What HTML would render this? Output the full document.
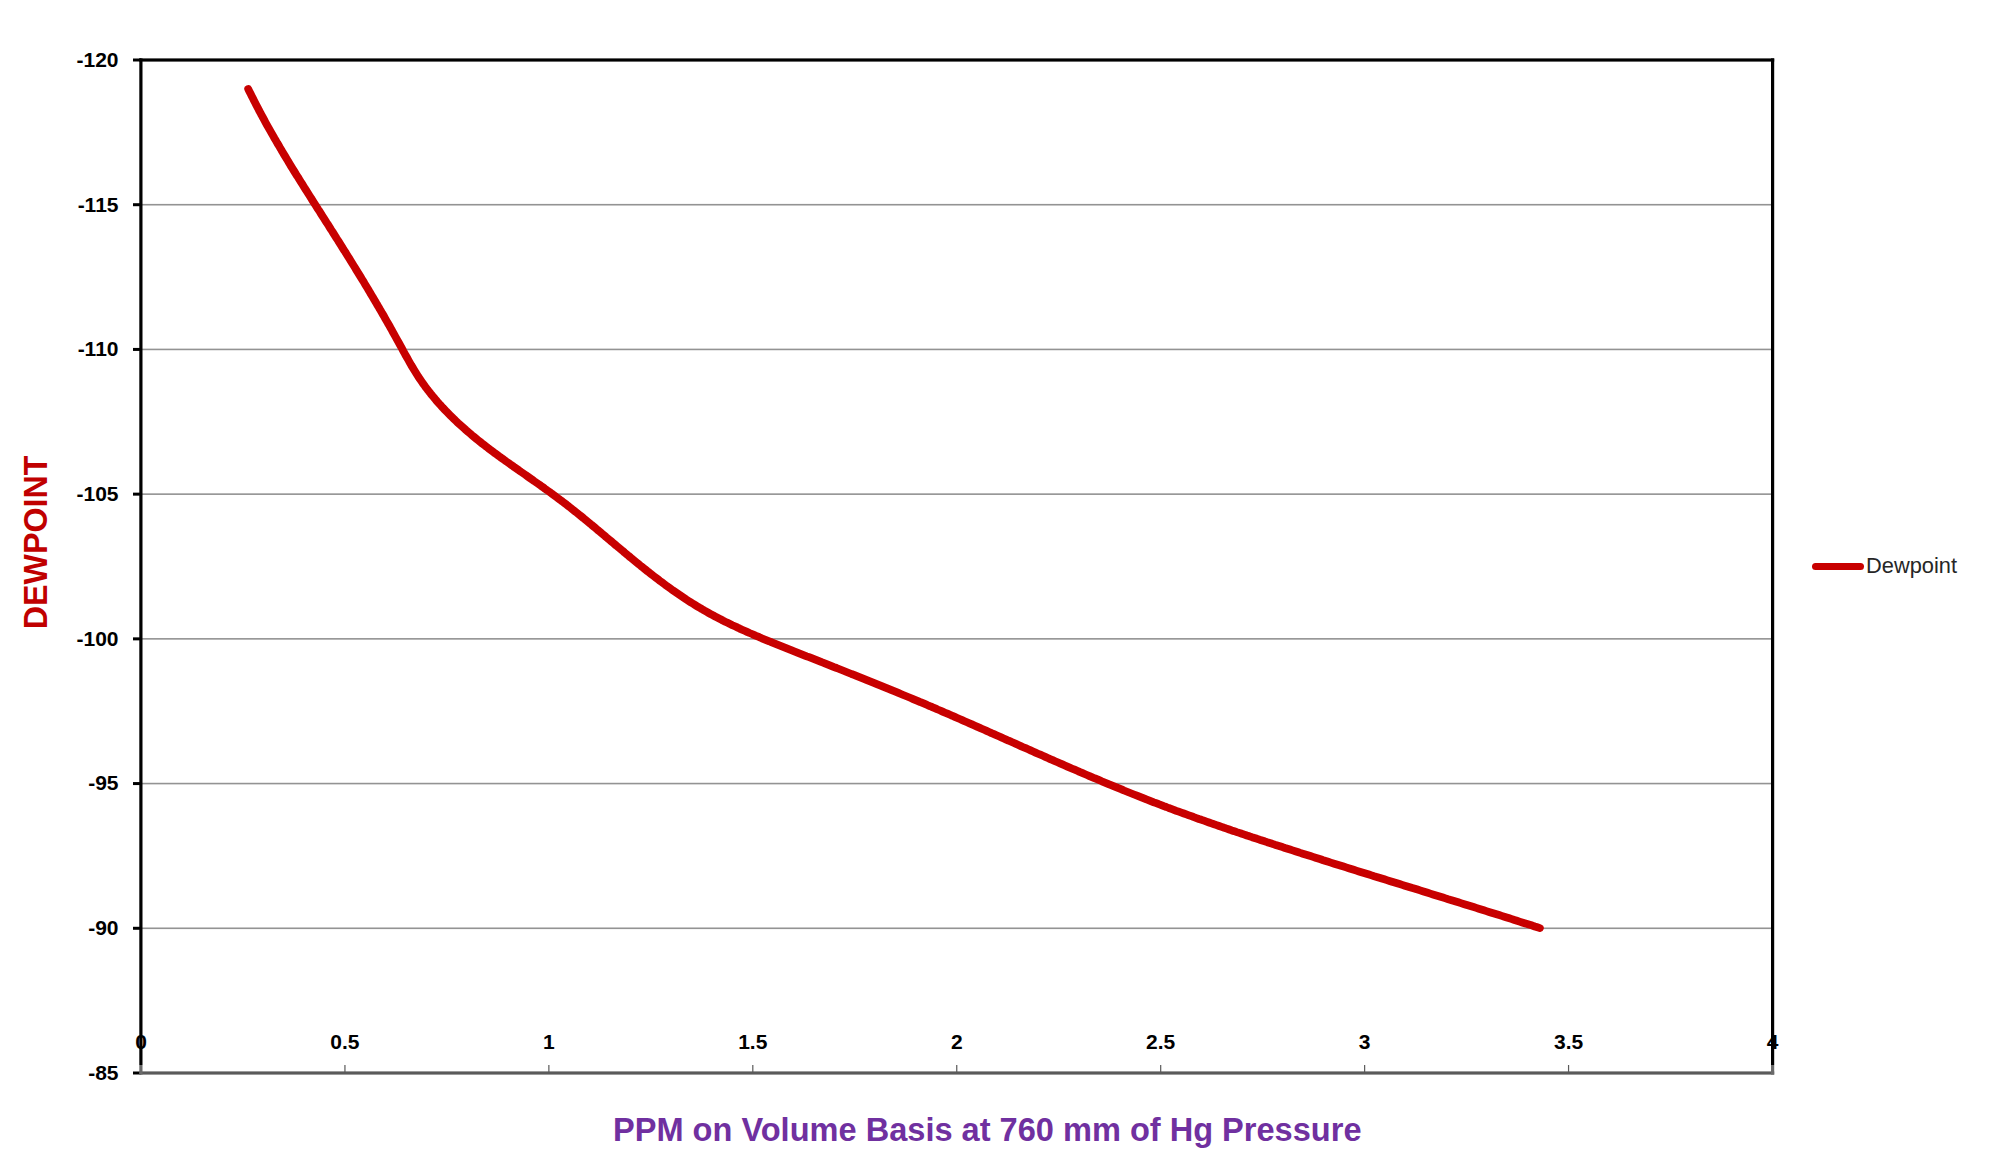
<!DOCTYPE html>
<html><head><meta charset="utf-8">
<style>
html,body{margin:0;padding:0;background:#fff;width:2000px;height:1160px;overflow:hidden}
svg{display:block}
text{font-family:"Liberation Sans",sans-serif}
.lab{font-size:21px;font-weight:bold;fill:#000}
.leg{font-size:22.5px;fill:#262626}
.xt{font-size:33px;font-weight:bold;fill:#7030a0}
.yt{font-size:34px;font-weight:bold;fill:#c00000}
</style></head><body>
<svg width="2000" height="1160" viewBox="0 0 2000 1160">
<rect width="2000" height="1160" fill="#fff"/>
<rect x="141.0" y="203.91" width="1631.5" height="1.6" fill="#939393"/>
<rect x="141.0" y="348.63" width="1631.5" height="1.6" fill="#939393"/>
<rect x="141.0" y="493.34" width="1631.5" height="1.6" fill="#939393"/>
<rect x="141.0" y="638.06" width="1631.5" height="1.6" fill="#939393"/>
<rect x="141.0" y="782.77" width="1631.5" height="1.6" fill="#939393"/>
<rect x="141.0" y="927.49" width="1631.5" height="1.6" fill="#939393"/>
<rect x="133" y="58.50" width="8" height="3" fill="#000"/>
<rect x="133" y="203.21" width="8" height="3" fill="#000"/>
<rect x="133" y="347.93" width="8" height="3" fill="#000"/>
<rect x="133" y="492.64" width="8" height="3" fill="#000"/>
<rect x="133" y="637.36" width="8" height="3" fill="#000"/>
<rect x="133" y="782.07" width="8" height="3" fill="#000"/>
<rect x="133" y="926.79" width="8" height="3" fill="#000"/>
<rect x="133" y="1071.50" width="8" height="3" fill="#000"/>
<rect x="139.3" y="1071.4" width="1634.9" height="3.2" fill="#5a5a5a"/>
<rect x="140.40" y="1065" width="1.2" height="7" fill="#5a5a5a"/>
<rect x="344.34" y="1065" width="1.2" height="7" fill="#5a5a5a"/>
<rect x="548.27" y="1065" width="1.2" height="7" fill="#5a5a5a"/>
<rect x="752.21" y="1065" width="1.2" height="7" fill="#5a5a5a"/>
<rect x="956.15" y="1065" width="1.2" height="7" fill="#5a5a5a"/>
<rect x="1160.09" y="1065" width="1.2" height="7" fill="#5a5a5a"/>
<rect x="1364.03" y="1065" width="1.2" height="7" fill="#5a5a5a"/>
<rect x="1567.96" y="1065" width="1.2" height="7" fill="#5a5a5a"/>
<rect x="1771.90" y="1065" width="1.2" height="7" fill="#5a5a5a"/>
<rect x="139.3" y="58.4" width="1634.9" height="3.2" fill="#000"/>
<rect x="139.3" y="58.4" width="3.2" height="1006.6" fill="#000"/>
<rect x="1771.0" y="58.4" width="3.2" height="1006.6" fill="#000"/>
<rect x="139.3" y="1065" width="3.2" height="9.6" fill="#6a6a6a"/>
<rect x="1771.0" y="1065" width="3.2" height="9.6" fill="#6a6a6a"/>
<path d="M248.2 89.0 L249.4 91.4 L250.6 93.8 L251.8 96.2 L253.0 98.6 L254.2 101.0 L255.4 103.3 L256.6 105.7 L257.9 108.1 L259.1 110.5 L260.4 112.8 L261.6 115.2 L262.9 117.5 L264.2 119.9 L265.4 122.2 L266.7 124.6 L268.0 126.9 L269.3 129.2 L270.7 131.6 L272.0 133.9 L273.3 136.2 L274.6 138.5 L276.0 140.8 L277.3 143.1 L278.7 145.4 L280.0 147.7 L281.4 150.0 L282.7 152.3 L284.1 154.6 L285.5 156.9 L286.9 159.2 L288.3 161.5 L289.6 163.8 L291.0 166.1 L292.4 168.3 L293.8 170.6 L295.2 172.9 L296.6 175.2 L298.1 177.4 L299.5 179.7 L300.9 182.0 L302.3 184.2 L303.7 186.5 L305.1 188.8 L306.6 191.0 L308.0 193.3 L309.4 195.5 L310.9 197.8 L312.3 200.1 L313.7 202.3 L315.2 204.6 L316.6 206.8 L318.0 209.1 L319.5 211.3 L320.9 213.6 L322.3 215.8 L323.8 218.1 L325.2 220.3 L326.6 222.6 L328.1 224.8 L329.5 227.1 L330.9 229.4 L332.4 231.6 L333.8 233.9 L335.2 236.1 L336.6 238.4 L338.1 240.6 L339.5 242.9 L340.9 245.1 L342.3 247.4 L343.7 249.7 L345.2 251.9 L346.6 254.2 L348.0 256.5 L349.4 258.7 L350.8 261.0 L352.2 263.3 L353.6 265.5 L355.0 267.8 L356.4 270.1 L357.8 272.3 L359.2 274.6 L360.6 276.9 L362.0 279.2 L363.4 281.4 L364.7 283.7 L366.1 286.0 L367.5 288.3 L368.9 290.6 L370.2 292.9 L371.6 295.2 L373.0 297.5 L374.3 299.8 L375.7 302.1 L377.0 304.4 L378.4 306.7 L379.7 309.0 L381.1 311.3 L382.4 313.6 L383.8 315.9 L385.1 318.3 L386.4 320.6 L387.7 322.9 L389.1 325.2 L390.4 327.6 L391.7 329.9 L393.0 332.3 L394.3 334.6 L395.6 337.0 L396.9 339.3 L398.2 341.7 L399.5 344.0 L400.8 346.4 L402.1 348.7 L403.3 351.1 L404.6 353.4 L405.9 355.8 L407.3 358.1 L408.6 360.5 L409.9 362.8 L411.2 365.1 L412.6 367.4 L414.0 369.7 L415.4 372.0 L416.8 374.3 L418.2 376.5 L419.7 378.7 L421.2 380.9 L422.7 383.1 L424.3 385.3 L425.8 387.4 L427.4 389.5 L429.1 391.6 L430.7 393.7 L432.4 395.8 L434.1 397.8 L435.8 399.9 L437.5 401.9 L439.3 403.9 L441.1 405.8 L442.9 407.8 L444.7 409.7 L446.5 411.6 L448.4 413.5 L450.3 415.4 L452.2 417.3 L454.1 419.2 L456.0 421.0 L457.9 422.8 L459.9 424.6 L461.9 426.4 L463.9 428.2 L465.9 430.0 L467.9 431.7 L469.9 433.4 L471.9 435.2 L474.0 436.9 L476.1 438.6 L478.1 440.2 L480.2 441.9 L482.3 443.6 L484.4 445.2 L486.5 446.8 L488.6 448.5 L490.8 450.1 L492.9 451.7 L495.0 453.3 L497.2 454.8 L499.3 456.4 L501.5 458.0 L503.7 459.5 L505.8 461.1 L508.0 462.6 L510.2 464.2 L512.4 465.7 L514.5 467.3 L516.7 468.8 L518.9 470.3 L521.1 471.9 L523.3 473.4 L525.5 474.9 L527.7 476.5 L529.8 478.0 L532.0 479.5 L534.2 481.1 L536.4 482.6 L538.6 484.1 L540.8 485.7 L543.0 487.2 L545.1 488.8 L547.3 490.4 L549.5 491.9 L551.6 493.5 L553.8 495.1 L555.9 496.7 L558.1 498.3 L560.2 499.9 L562.4 501.5 L564.5 503.1 L566.6 504.7 L568.7 506.4 L570.8 508.0 L572.9 509.7 L575.0 511.4 L577.1 513.0 L579.2 514.7 L581.3 516.4 L583.4 518.1 L585.4 519.8 L587.5 521.5 L589.6 523.2 L591.6 524.9 L593.7 526.6 L595.8 528.3 L597.8 530.1 L599.9 531.8 L601.9 533.5 L604.0 535.2 L606.0 537.0 L608.1 538.7 L610.1 540.4 L612.2 542.1 L614.2 543.9 L616.3 545.6 L618.3 547.3 L620.4 549.0 L622.5 550.7 L624.5 552.5 L626.6 554.2 L628.6 555.9 L630.7 557.6 L632.7 559.3 L634.8 561.0 L636.9 562.7 L639.0 564.4 L641.0 566.1 L643.1 567.7 L645.2 569.4 L647.3 571.1 L649.4 572.7 L651.5 574.4 L653.6 576.0 L655.7 577.6 L657.8 579.2 L659.9 580.8 L662.1 582.4 L664.2 584.0 L666.3 585.6 L668.5 587.2 L670.6 588.7 L672.8 590.3 L675.0 591.8 L677.2 593.3 L679.4 594.8 L681.6 596.3 L683.8 597.8 L686.0 599.3 L688.2 600.7 L690.4 602.1 L692.7 603.5 L694.9 604.9 L697.2 606.3 L699.5 607.7 L701.8 609.0 L704.1 610.4 L706.4 611.7 L708.7 613.0 L711.0 614.3 L713.4 615.5 L715.7 616.8 L718.1 618.0 L720.5 619.2 L722.8 620.5 L725.2 621.7 L727.6 622.8 L730.0 624.0 L732.4 625.2 L734.9 626.3 L737.3 627.4 L739.7 628.6 L742.1 629.7 L744.6 630.8 L747.0 631.9 L749.5 633.0 L752.0 634.0 L754.4 635.1 L756.9 636.2 L759.4 637.2 L761.8 638.3 L764.3 639.3 L766.8 640.3 L769.3 641.3 L771.8 642.4 L774.3 643.4 L776.8 644.4 L779.3 645.4 L781.8 646.4 L784.3 647.4 L786.8 648.4 L789.3 649.4 L791.8 650.4 L794.2 651.3 L796.7 652.3 L799.2 653.3 L801.7 654.3 L804.2 655.3 L806.7 656.3 L809.2 657.2 L811.7 658.2 L814.2 659.2 L816.7 660.2 L819.2 661.2 L821.7 662.2 L824.2 663.1 L826.7 664.1 L829.2 665.1 L831.6 666.1 L834.1 667.1 L836.6 668.0 L839.1 669.0 L841.6 670.0 L844.1 671.0 L846.5 672.0 L849.0 673.0 L851.5 674.0 L854.0 674.9 L856.4 675.9 L858.9 676.9 L861.4 677.9 L863.9 678.9 L866.3 679.9 L868.8 680.9 L871.3 681.9 L873.8 682.9 L876.2 683.9 L878.7 684.9 L881.2 685.9 L883.6 686.9 L886.1 687.9 L888.6 688.9 L891.0 689.9 L893.5 690.9 L896.0 691.9 L898.4 692.9 L900.9 694.0 L903.3 695.0 L905.8 696.0 L908.3 697.0 L910.7 698.0 L913.2 699.1 L915.6 700.1 L918.1 701.1 L920.5 702.2 L923.0 703.2 L925.4 704.2 L927.9 705.3 L930.4 706.3 L932.8 707.4 L935.3 708.4 L937.7 709.5 L940.2 710.5 L942.6 711.6 L945.1 712.7 L947.5 713.7 L950.0 714.8 L952.4 715.8 L954.8 716.9 L957.3 718.0 L959.7 719.0 L962.2 720.1 L964.6 721.2 L967.1 722.3 L969.5 723.3 L972.0 724.4 L974.4 725.5 L976.9 726.6 L979.3 727.6 L981.7 728.7 L984.2 729.8 L986.6 730.9 L989.1 732.0 L991.5 733.1 L994.0 734.1 L996.4 735.2 L998.8 736.3 L1001.3 737.4 L1003.7 738.5 L1006.2 739.6 L1008.6 740.7 L1011.1 741.7 L1013.5 742.8 L1016.0 743.9 L1018.4 745.0 L1020.8 746.1 L1023.3 747.2 L1025.7 748.2 L1028.2 749.3 L1030.6 750.4 L1033.1 751.5 L1035.5 752.6 L1038.0 753.7 L1040.4 754.7 L1042.9 755.8 L1045.3 756.9 L1047.8 758.0 L1050.2 759.1 L1052.7 760.1 L1055.1 761.2 L1057.6 762.3 L1060.0 763.3 L1062.5 764.4 L1064.9 765.5 L1067.4 766.6 L1069.8 767.6 L1072.3 768.7 L1074.7 769.7 L1077.2 770.8 L1079.6 771.9 L1082.1 772.9 L1084.6 774.0 L1087.0 775.0 L1089.5 776.1 L1091.9 777.1 L1094.4 778.2 L1096.9 779.2 L1099.3 780.2 L1101.8 781.3 L1104.3 782.3 L1106.7 783.3 L1109.2 784.4 L1111.7 785.4 L1114.1 786.4 L1116.6 787.4 L1119.1 788.4 L1121.6 789.4 L1124.0 790.5 L1126.5 791.5 L1129.0 792.5 L1131.5 793.5 L1134.0 794.5 L1136.4 795.4 L1138.9 796.4 L1141.4 797.4 L1143.9 798.4 L1146.4 799.4 L1148.9 800.3 L1151.4 801.3 L1153.8 802.3 L1156.3 803.2 L1158.8 804.2 L1161.3 805.1 L1163.8 806.1 L1166.3 807.0 L1168.8 808.0 L1171.3 808.9 L1173.8 809.8 L1176.3 810.8 L1178.8 811.7 L1181.4 812.6 L1183.9 813.5 L1186.4 814.4 L1188.9 815.3 L1191.4 816.2 L1193.9 817.2 L1196.4 818.1 L1198.9 819.0 L1201.5 819.8 L1204.0 820.7 L1206.5 821.6 L1209.0 822.5 L1211.5 823.4 L1214.1 824.3 L1216.6 825.1 L1219.1 826.0 L1221.6 826.9 L1224.2 827.8 L1226.7 828.6 L1229.2 829.5 L1231.7 830.4 L1234.3 831.2 L1236.8 832.1 L1239.3 832.9 L1241.9 833.8 L1244.4 834.6 L1246.9 835.5 L1249.5 836.3 L1252.0 837.2 L1254.5 838.0 L1257.1 838.8 L1259.6 839.7 L1262.1 840.5 L1264.7 841.3 L1267.2 842.2 L1269.8 843.0 L1272.3 843.8 L1274.8 844.7 L1277.4 845.5 L1279.9 846.3 L1282.5 847.1 L1285.0 848.0 L1287.5 848.8 L1290.1 849.6 L1292.6 850.4 L1295.2 851.2 L1297.7 852.0 L1300.3 852.9 L1302.8 853.7 L1305.4 854.5 L1307.9 855.3 L1310.5 856.1 L1313.0 856.9 L1315.5 857.7 L1318.1 858.5 L1320.6 859.3 L1323.2 860.2 L1325.7 861.0 L1328.3 861.8 L1330.8 862.6 L1333.4 863.4 L1335.9 864.2 L1338.5 865.0 L1341.0 865.8 L1343.6 866.6 L1346.1 867.4 L1348.7 868.2 L1351.2 869.0 L1353.8 869.8 L1356.3 870.6 L1358.9 871.4 L1361.4 872.2 L1364.0 873.0 L1366.5 873.8 L1369.1 874.6 L1371.6 875.4 L1374.2 876.2 L1376.7 876.9 L1379.3 877.7 L1381.8 878.5 L1384.4 879.3 L1386.9 880.1 L1389.5 880.9 L1392.0 881.7 L1394.6 882.5 L1397.1 883.3 L1399.7 884.1 L1402.2 884.9 L1404.8 885.7 L1407.4 886.5 L1409.9 887.3 L1412.5 888.1 L1415.0 888.8 L1417.6 889.6 L1420.1 890.4 L1422.7 891.2 L1425.2 892.0 L1427.8 892.8 L1430.3 893.6 L1432.9 894.4 L1435.4 895.2 L1438.0 896.0 L1440.5 896.8 L1443.1 897.6 L1445.6 898.4 L1448.2 899.2 L1450.7 899.9 L1453.3 900.7 L1455.8 901.5 L1458.4 902.3 L1460.9 903.1 L1463.5 903.9 L1466.0 904.7 L1468.6 905.5 L1471.1 906.3 L1473.7 907.1 L1476.2 907.9 L1478.8 908.7 L1481.3 909.5 L1483.9 910.3 L1486.4 911.1 L1489.0 911.9 L1491.5 912.7 L1494.1 913.5 L1496.6 914.3 L1499.2 915.1 L1501.7 915.9 L1504.3 916.7 L1506.8 917.5 L1509.4 918.3 L1511.9 919.1 L1514.5 920.0 L1517.0 920.8 L1519.5 921.6 L1522.1 922.4 L1524.6 923.2 L1527.2 924.0 L1529.7 924.8 L1532.3 925.6 L1534.8 926.5 L1537.4 927.3 L1539.9 928.1" fill="none" stroke="#c80000" stroke-width="7.8" stroke-linecap="round" stroke-linejoin="round"/>
<line x1="1815.5" y1="566.5" x2="1860.5" y2="566.5" stroke="#c80000" stroke-width="7" stroke-linecap="round"/>
<text x="118.5" y="66.8" text-anchor="end" class="lab">-120</text>
<text x="118.5" y="211.5" text-anchor="end" class="lab">-115</text>
<text x="118.5" y="356.2" text-anchor="end" class="lab">-110</text>
<text x="118.5" y="500.9" text-anchor="end" class="lab">-105</text>
<text x="118.5" y="645.7" text-anchor="end" class="lab">-100</text>
<text x="118.5" y="790.4" text-anchor="end" class="lab">-95</text>
<text x="118.5" y="935.1" text-anchor="end" class="lab">-90</text>
<text x="118.5" y="1079.8" text-anchor="end" class="lab">-85</text>
<text x="141.0" y="1048.6" text-anchor="middle" class="lab">0</text>
<text x="344.9" y="1048.6" text-anchor="middle" class="lab">0.5</text>
<text x="548.9" y="1048.6" text-anchor="middle" class="lab">1</text>
<text x="752.8" y="1048.6" text-anchor="middle" class="lab">1.5</text>
<text x="956.8" y="1048.6" text-anchor="middle" class="lab">2</text>
<text x="1160.7" y="1048.6" text-anchor="middle" class="lab">2.5</text>
<text x="1364.6" y="1048.6" text-anchor="middle" class="lab">3</text>
<text x="1568.6" y="1048.6" text-anchor="middle" class="lab">3.5</text>
<text x="1772.5" y="1048.6" text-anchor="middle" class="lab">4</text>
<text x="1866" y="573.3" class="leg" textLength="91" lengthAdjust="spacingAndGlyphs">Dewpoint</text>
<text x="613" y="1140.6" class="xt" textLength="748.5" lengthAdjust="spacingAndGlyphs">PPM on Volume Basis at 760 mm of Hg Pressure</text>
<text transform="translate(46.8 629.2) rotate(-90)" class="yt" textLength="173.5" lengthAdjust="spacingAndGlyphs">DEWPOINT</text>
</svg>
</body></html>
